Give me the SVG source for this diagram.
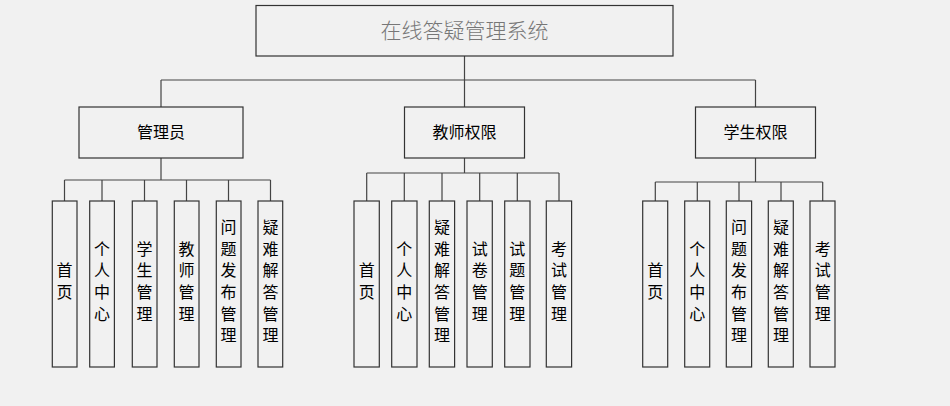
<svg xmlns="http://www.w3.org/2000/svg" width="950" height="406" viewBox="0 0 950 406">
<style>
  .bg{fill:#f1f1f1}
  .box{fill:#f1f1f1;stroke:#333;stroke-width:1.2}
  .conn{fill:none;stroke:#444;stroke-width:1.2}
  .t{font-family:"Noto Sans CJK SC","Liberation Sans",sans-serif;font-size:16px;fill:#000;text-anchor:middle}
  .v{font-family:"Noto Sans CJK SC","Liberation Sans",sans-serif;font-size:16px;fill:#000;text-anchor:middle;writing-mode:vertical-rl;letter-spacing:5.6px}
  .title{font-family:"Noto Sans CJK SC","Liberation Sans",sans-serif;font-size:21px;fill:#777;text-anchor:middle;font-weight:300}
</style>
<rect class="bg" x="0" y="0" width="950" height="406"/>
<g id="connectors">
  <path class="conn" d="M464.5 56V107M161 80H755.5M161 80V107M755.5 80V107"/>
  <path class="conn" d="M161 158V180M64.5 180H270.5M64.5 180V201M102 180V201M144.5 180V201M186.5 180V201M228.5 180V201M270.5 180V201"/>
  <path class="conn" d="M464.5 158V173M366.7 173H559M366.7 173V201M404.3 173V201M442 173V201M479.7 173V201M517.3 173V201M559 173V201"/>
  <path class="conn" d="M755.5 158V182M655.3 182H822.7M655.3 182V201M697.3 182V201M739 182V201M781 182V201M822.7 182V201"/>
</g>
<g id="root"><rect class="box" x="256" y="5.5" width="417" height="50.5"/><text class="title" x="464.5" y="38">在线答疑管理系统</text></g>
<g id="admin"><rect class="box" x="79" y="107" width="164" height="51"/><text class="t" x="161" y="138">管理员</text></g>
<g id="teacher"><rect class="box" x="404.5" y="107" width="120" height="51"/><text class="t" x="464.5" y="138">教师权限</text></g>
<g id="student"><rect class="box" x="695.5" y="107" width="120" height="51"/><text class="t" x="755.5" y="138">学生权限</text></g>

<g id="a1"><rect class="box" x="52.3" y="201" width="24.7" height="166"/><text class="v" x="64.5" y="284">首页</text></g>
<g id="a2"><rect class="box" x="89.7" y="201" width="24.7" height="166"/><text class="v" x="102" y="284">个人中心</text></g>
<g id="a3"><rect class="box" x="132.3" y="201" width="24.7" height="166"/><text class="v" x="144.5" y="284">学生管理</text></g>
<g id="a4"><rect class="box" x="174.3" y="201" width="24.7" height="166"/><text class="v" x="186.5" y="284">教师管理</text></g>
<g id="a5"><rect class="box" x="216.3" y="201" width="24.7" height="166"/><text class="v" x="228.5" y="284">问题发布管理</text></g>
<g id="a6"><rect class="box" x="258" y="201" width="24.7" height="166"/><text class="v" x="270.5" y="284">疑难解答管理</text></g>

<g id="t1"><rect class="box" x="354" y="201" width="25.3" height="166"/><text class="v" x="366.7" y="284">首页</text></g>
<g id="t2"><rect class="box" x="391.7" y="201" width="25.3" height="166"/><text class="v" x="404.3" y="284">个人中心</text></g>
<g id="t3"><rect class="box" x="429.3" y="201" width="25.3" height="166"/><text class="v" x="442" y="284">疑难解答管理</text></g>
<g id="t4"><rect class="box" x="467" y="201" width="25.3" height="166"/><text class="v" x="479.7" y="284">试卷管理</text></g>
<g id="t5"><rect class="box" x="504.7" y="201" width="25.3" height="166"/><text class="v" x="517.3" y="284">试题管理</text></g>
<g id="t6"><rect class="box" x="546.3" y="201" width="25.3" height="166"/><text class="v" x="559" y="284">考试管理</text></g>

<g id="s1"><rect class="box" x="642.7" y="201" width="25" height="166"/><text class="v" x="655.3" y="284">首页</text></g>
<g id="s2"><rect class="box" x="684.7" y="201" width="25" height="166"/><text class="v" x="697.3" y="284">个人中心</text></g>
<g id="s3"><rect class="box" x="726.3" y="201" width="25.3" height="166"/><text class="v" x="739" y="284">问题发布管理</text></g>
<g id="s4"><rect class="box" x="768.3" y="201" width="25" height="166"/><text class="v" x="781" y="284">疑难解答管理</text></g>
<g id="s5"><rect class="box" x="810" y="201" width="25" height="166"/><text class="v" x="822.7" y="284">考试管理</text></g>
</svg>
